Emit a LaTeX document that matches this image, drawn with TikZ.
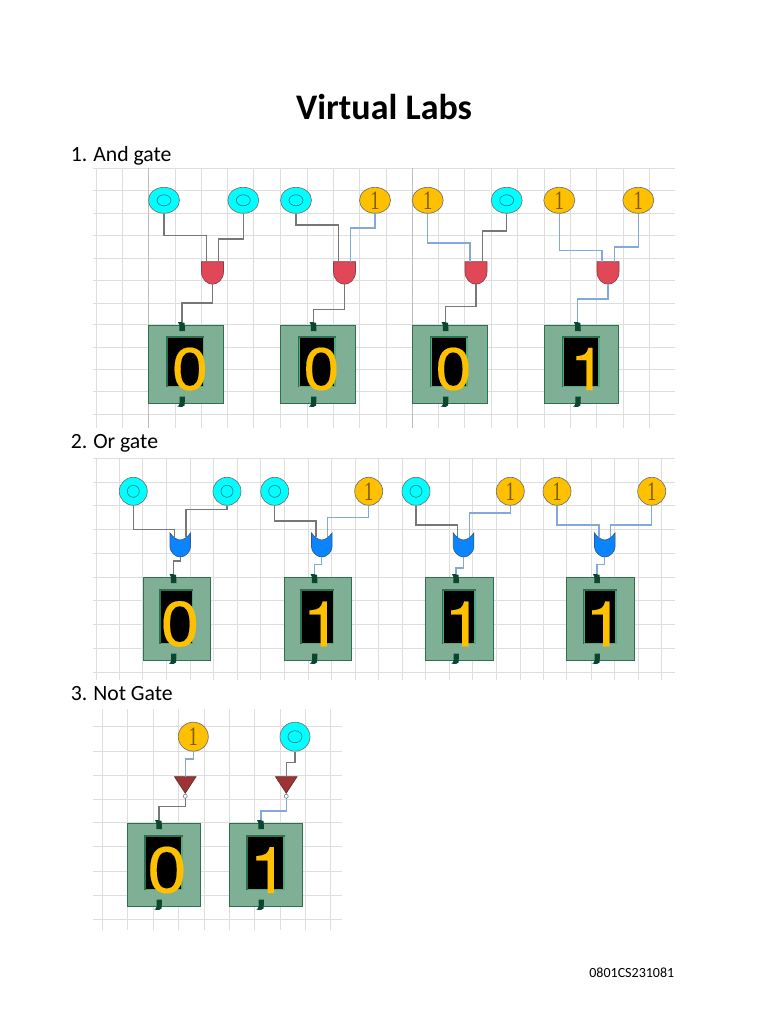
\documentclass[tikz,border=0pt]{standalone}
\usepackage{fontspec}
\setmainfont{Carlito}
\newfontfamily\digitfont[FakeBold=0.25,FakeStretch=1.1]{TeX Gyre Heros}
\newfontfamily\bitfont[FakeStretch=0.7]{Liberation Serif}
\usetikzlibrary{shapes.geometric}
\definecolor{gridc}{HTML}{DEDEDE}
\definecolor{gridd}{HTML}{BDBDBD}
\definecolor{wireg}{HTML}{777777}
\definecolor{wireb}{HTML}{82A8DC}
\definecolor{inzero}{HTML}{00FFFF}
\definecolor{inone}{HTML}{FFC000}
\definecolor{panel}{HTML}{7FB095}
\definecolor{panele}{HTML}{2C7050}
\definecolor{panell}{HTML}{50AA7D}
\definecolor{tabc}{HTML}{0B4630}
\definecolor{ringc}{HTML}{1F7F8F}
\definecolor{andf}{HTML}{E04858}
\definecolor{andd}{HTML}{8C3C46}
\definecolor{orf}{HTML}{0A84FF}
\definecolor{ord}{HTML}{2D5A8C}
\definecolor{notf}{HTML}{9E3333}
\definecolor{notd}{HTML}{5F2D2D}
\definecolor{bitc}{HTML}{7A5C10}
\tikzset{
 x=0.75pt,y=-0.75pt,
 gridline/.style={gridc,line width=0.75pt},
 gridbold/.style={gridd,line width=0.75pt},
 graywire/.style={wireg,line width=0.78pt},
 bluewire/.style={wireb,line width=0.78pt},
 inputbase/.style={shape=ellipse,draw=black!55,line width=0.5pt,inner sep=0pt,text=bitc},
 zerofill/.style={inputbase,fill=inzero},
 onefill/.style={inputbase,fill=inone,font=\bitfont\fontsize{20}{20}\selectfont},
 andsize/.style={minimum width=23.25pt,minimum height=19.5pt},
 orsize/.style={minimum width=21pt,minimum height=21pt},
 notsize/.style={minimum width=22.5pt,minimum height=21.75pt},
 ring/.style={draw=ringc,line width=0.5pt},
 andgate/.style={fill=andf,draw=andd,line width=0.5pt},
 orgate/.style={fill=orf,draw=ord,line width=0.5pt},
 notgate/.style={fill=notf,draw=notd,line width=0.5pt},
 bubble/.style={fill=white,draw=black!55,line width=0.4pt},
 bignum/.style={text=inone,inner sep=0pt,anchor=center},
 section/.style={anchor=base west,inner sep=0pt,font=\fontsize{16.3}{18}\selectfont},
}
% wire: style, from, y of the horizontal run, to
\newcommand{\wirerun}[4]{\draw[#1] (#2) -- (#2 |- 0,#3) -| (#4);}
\newcommand{\AndG}[2]{\begin{scope}[shift={(#2,261.7)}]
 \draw[andgate] (0,0) -- (22,0) -- (22,10) .. controls (22,18) and (16,22.5) .. (11,22.5) .. controls (6,22.5) and (0,18) .. (0,10) -- cycle;
 \coordinate (#1a) at (5,0); \coordinate (#1b) at (17.3,0); \coordinate (#1o) at (11,22.5);
\end{scope}}
\newcommand{\OrG}[2]{\begin{scope}[shift={(#2,533)}]
 \draw[orgate] (0,0) .. controls (3,4.5) and (7,7) .. (10.25,7) .. controls (13.5,7) and (17.5,4.5) .. (20.5,0) -- (20.5,14) .. controls (20.5,19) and (15,24) .. (10.25,24) .. controls (5.5,24) and (0,19) .. (0,14) -- cycle;
 \coordinate (#1a) at (4.5,4); \coordinate (#1b) at (16,4); \coordinate (#1o) at (10.25,24);
\end{scope}}
\newcommand{\NotG}[2]{\begin{scope}[shift={(#2,776.7)}]
 \draw[notgate] (0,0) -- (21.5,0) -- (10.75,16.5) -- cycle;
 \draw[bubble] (10.75,19.5) circle (2);
 \coordinate (#1a) at (10.75,0); \coordinate (#1o) at (10.75,21.5);
\end{scope}}
% name, left, top, width, height, inner left, inner width, inner top, inner height, tab x, digit x, digit y, digit size, digit
\newcommand{\Disp}[9]{\begin{scope}[shift={(#2,#3)}]
 \draw[fill=panel,draw=panele,line width=0.6pt] (0,0) rectangle (#4,#5);
 \def\dn{#1}\def\dh{#5}\def\il{#6}\def\iw{#7}\def\itop{#8}\def\ih{#9}
 \DispB}
\newcommand{\DispB}[5]{
 \fill[panele] (\il,\itop) rectangle ++(\iw,\ih);
 \fill[panell] (\il+1.5,\itop+1.5) rectangle ++(\iw-1.5,\ih-1.5);
 \fill[black] (\il+2,\itop+2) rectangle ++(\iw-3.5,\ih-3.5);
 \fill[tabc] (#1-4,-3) .. controls (#1-2,-3.2) and (#1+1,-3) .. (#1+2.6,-2) -- (#1+3,6) -- (#1-2.6,6) -- (#1-2.6,0) .. controls (#1-2.6,-1.5) and (#1-3.2,-2.4) .. (#1-4,-3) -- cycle;
 \fill[tabc] (#1+3,\dh-6.5) -- (#1-2.4,\dh-6.5) -- (#1-2.4,\dh+0.5) .. controls (#1-2.6,\dh+2) and (#1-3.6,\dh+3) .. (#1-4.6,\dh+3.5) .. controls (#1-1,\dh+4.3) and (#1+2,\dh+4) .. (#1+2.6,\dh+2.5) -- cycle;
 \coordinate (\dn t) at (#1,-3);
 \node[bignum,font=\digitfont\fontsize{#4}{#4}\selectfont] (\dn n) at (#2,#3) {#5};
 \end{scope}}
\begin{document}
\begin{tikzpicture}
\useasboundingbox (0,0) rectangle (768,1024);
\fill[white] (0,0) rectangle (768,1024);

% grids
\foreach \yy in {168.3,190.7,213.3,235.3,258.3,280.3,303.3,324.7,347.3,369.3,391.3,414.3}
  \draw[gridline] (93,\yy) -- (675,\yy);
\foreach \xx in {96,122.3,175,201.3,227.3,253.3,280,307.7,333.3,359.3,386,438.3,464.3,491,517,544.3,570.3,596.7,623.3,649.3}
  \draw[gridline] (\xx,168) -- (\xx,428);
\foreach \xx in {148.7,412.7}
  \draw[gridbold] (\xx,168) -- (\xx,428);
\foreach \yy in {458.3,482.3,505.7,529.3,553.3,577,600.7,624.3,648.7,672.7}
  \draw[gridline] (93,\yy) -- (675,\yy);
\foreach \xx in {96,119.3,142.7,166,190.3,213.7,237.3,260.7,284.7,308.3,331.7,355,378.7,402.7,425.7,449.3,472.7,496,520.3,543.3,566.7,591,614,638,661.3}
  \draw[gridline] (\xx,458) -- (\xx,680);
\foreach \yy in {726.7,751.3,775.3,799,822.7,846.7,871.3,895,919}
  \draw[gridline] (93,\yy) -- (342,\yy);
\foreach \xx in {102.7,127.3,153,178.3,204.7,229.3,254.7,280.3,305.3,330.3}
  \draw[gridline] (\xx,709) -- (\xx,930);

% texts
\node[anchor=base,inner sep=0pt,font=\bfseries\fontsize{27}{30}\selectfont] (title) at (384,119) {Virtual Labs};
\node[section] (n1) at (70.5,161.5) {1.};
\node[section] (s1) at (93,161.5) {And gate};
\node[section] (n2) at (70.5,448.5) {2.};
\node[section] (s2) at (93,448.5) {Or gate};
\node[section] (n3) at (70.5,700.5) {3.};
\node[section] (s3) at (93,700.5) {Not Gate};
\node[anchor=base east,inner sep=0pt,font=\fontsize{10.5}{12}\selectfont] (foot) at (674.5,977) {0801CS231081};

% AND inputs
\node[zerofill,andsize] (a1) at (164,200.3) {};
\node[zerofill,andsize] (a2) at (243.3,200.3) {};
\node[zerofill,andsize] (a3) at (296,200.3) {};
\node[onefill,andsize] (a4) at (375,200.3) {1};
\node[onefill,andsize] (a5) at (427.7,200.3) {1};
\node[zerofill,andsize] (a6) at (506.7,200.3) {};
\node[onefill,andsize] (a7) at (559.3,200.3) {1};
\node[onefill,andsize] (a8) at (638.3,200.3) {1};
\foreach \nn in {a1,a2,a3,a6} \draw[ring] (\nn.center) ellipse (7 and 5.5);

% AND displays
\Disp{d1}{148.5}{325}{75.3}{78}{17.5}{38}{11}{51}{33.5}{41.5}{44}{44.5}{0}
\Disp{d2}{280}{325}{75.3}{78}{17.5}{38}{11}{51}{33.5}{41.5}{44}{44.5}{0}
\Disp{d3}{412}{325}{75.3}{78}{17.5}{38}{11}{51}{33.5}{41.5}{44}{44.5}{0}
\Disp{d4}{544.3}{325}{74.5}{78}{17.5}{38}{11}{51}{33.5}{43.5}{44}{44.5}{1}

% AND gates
\AndG{g1}{201.5}\AndG{g2}{333.5}\AndG{g3}{465}\AndG{g4}{597}
\wirerun{graywire}{a1.south}{235.5}{g1a}
\wirerun{graywire}{a2.south}{239}{g1b}
\wirerun{graywire}{g1o}{303}{d1t}
\wirerun{graywire}{a3.south}{225}{g2a}
\wirerun{bluewire}{a4.south}{228}{g2b}
\wirerun{graywire}{g2o}{309.5}{d2t}
\wirerun{bluewire}{a5.south}{243}{g3a}
\wirerun{graywire}{a6.south}{231}{g3b}
\wirerun{graywire}{g3o}{306.5}{d3t}
\wirerun{bluewire}{a7.south}{250.5}{g4a}
\wirerun{bluewire}{a8.south}{247}{g4b}
\wirerun{bluewire}{g4o}{299}{d4t}

% OR inputs
\node[zerofill,orsize] (b1) at (133.3,491.3) {};
\node[zerofill,orsize] (b2) at (227,491.3) {};
\node[zerofill,orsize] (b3) at (274.7,491.3) {};
\node[onefill,orsize] (b4) at (368.7,491.3) {1};
\node[zerofill,orsize] (b5) at (416,491.3) {};
\node[onefill,orsize] (b6) at (510.3,491.3) {1};
\node[onefill,orsize] (b7) at (557,491.3) {1};
\node[onefill,orsize] (b8) at (651.7,491.3) {1};
\foreach \nn in {b1,b2,b3,b5} \draw[ring] (\nn.center) ellipse (6 and 6);

% OR displays
\Disp{e1}{143}{577}{67.5}{83}{16}{34}{12}{55}{30.5}{37}{47}{47.5}{0}
\Disp{e2}{284}{577}{67.5}{83}{16}{34}{12}{55}{30.5}{38}{47}{47.5}{1}
\Disp{e3}{425.5}{577}{67.5}{83}{16}{34}{12}{55}{30.5}{38}{47}{47.5}{1}
\Disp{e4}{566.5}{577}{68}{83}{16}{34}{12}{55}{30.5}{38}{47}{47.5}{1}

% OR gates
\OrG{h1}{170}\OrG{h2}{311.5}\OrG{h3}{453.3}\OrG{h4}{594.5}
\wirerun{graywire}{b1.south}{529.5}{h1a}
\wirerun{graywire}{b2.south}{509.5}{h1b}
\wirerun{graywire}{h1o}{561}{e1t}
\wirerun{graywire}{b3.south}{521}{h2a}
\wirerun{bluewire}{b4.south}{517.5}{h2b}
\wirerun{bluewire}{h2o}{564.5}{e2t}
\wirerun{graywire}{b5.south}{525}{h3a}
\wirerun{bluewire}{b6.south}{513}{h3b}
\wirerun{bluewire}{h3o}{568}{e3t}
\wirerun{bluewire}{b7.south}{525}{h4a}
\wirerun{bluewire}{b8.south}{525}{h4b}
\wirerun{bluewire}{h4o}{564.5}{e4t}

% NOT
\node[onefill,notsize] (c1) at (193.3,736.7) {1};
\node[zerofill,notsize] (c2) at (295,736.7) {};
\draw[ring] (c2.center) ellipse (7 and 6);
\Disp{f1}{127}{823}{73}{83}{17}{38.5}{12}{55}{32}{40}{47}{48.5}{0}
\Disp{f2}{229}{823}{73}{83}{17}{38.5}{12}{55}{32}{40}{47}{48.5}{1}
\NotG{k1}{174.5}\NotG{k2}{275.5}
\wirerun{bluewire}{c1.south}{759}{k1a}
\wirerun{graywire}{c2.south}{762.5}{k2a}
\wirerun{graywire}{k1o}{806.5}{f1t}
\wirerun{bluewire}{k2o}{811}{f2t}
\end{tikzpicture}
\end{document}
